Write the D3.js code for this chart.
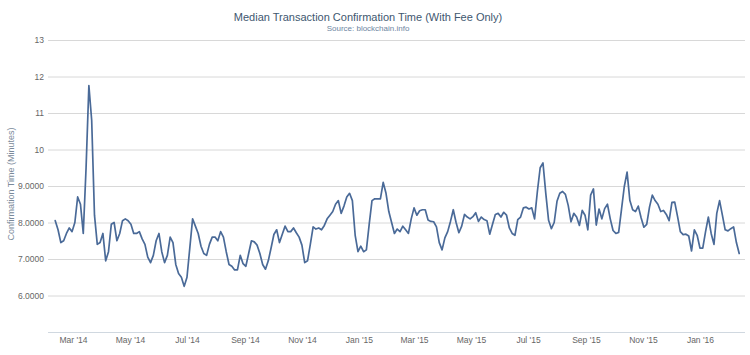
<!DOCTYPE html>
<html>
<head>
<meta charset="utf-8">
<script src="https://cdn.jsdelivr.net/npm/d3@7"></script>
<style>
  html, body { margin: 0; padding: 0; background: #ffffff; }
  svg { display: block; font-family: "Liberation Sans", "Lucida Grande", Arial, sans-serif; }
</style>
</head>
<body>
<svg id="chart" width="750" height="355"></svg>
<script>
// ---- data ----
const titleText = "Median Transaction Confirmation Time (With Fee Only)";
const subtitleText = "Source: blockchain.info";
const yAxisTitle = "Confirmation Time (Minutes)";

const seriesStart = "2014-02-10";   // first sample date
const sampleStepDays = 3;           // one sample every 3 days

const values = [
  8.05, 7.8, 7.45, 7.5, 7.7, 7.85, 7.75, 8.0, 8.7, 8.5,
  7.7, 9.5, 11.75, 10.8, 8.2, 7.4, 7.45, 7.7, 6.95, 7.2,
  7.95, 8.0, 7.5, 7.7, 8.05, 8.1, 8.05, 7.95, 7.7, 7.7,
  7.75, 7.55, 7.4, 7.05, 6.9, 7.1, 7.5, 7.7, 7.2, 6.9,
  7.1, 7.6, 7.45, 6.85, 6.6, 6.5, 6.25, 6.5, 7.3, 8.1,
  7.9, 7.7, 7.35, 7.15, 7.1, 7.4, 7.6, 7.6, 7.5, 7.75,
  7.6, 7.2, 6.85, 6.8, 6.7, 6.7, 7.1, 6.87, 6.8, 7.15,
  7.5, 7.47, 7.38, 7.15, 6.85, 6.72, 6.95, 7.3, 7.67, 7.8,
  7.45, 7.68, 7.9, 7.75, 7.75, 7.85, 7.72, 7.6, 7.38, 6.9,
  6.95, 7.4, 7.88, 7.82, 7.85, 7.8, 7.92, 8.1, 8.2, 8.3,
  8.5, 8.6, 8.25, 8.45, 8.7, 8.8, 8.6, 7.65, 7.2, 7.35,
  7.2, 7.25, 7.95, 8.6, 8.65, 8.65, 8.65, 9.1, 8.8, 8.3,
  8.0, 7.7, 7.82, 7.75, 7.9, 7.8, 7.7, 8.1, 8.4, 8.2,
  8.32, 8.35, 8.35, 8.07, 8.03, 8.02, 7.88, 7.45, 7.25, 7.58,
  7.75, 8.03, 8.35, 8.0, 7.72, 7.9, 8.22, 8.15, 8.1, 8.16,
  8.27, 8.03, 8.15, 8.08, 8.05, 7.68, 7.95, 8.22, 8.25, 8.15,
  8.28, 8.2, 7.85, 7.7, 7.65, 8.08, 8.15, 8.4, 8.42, 8.37,
  8.4, 8.1, 8.85, 9.5, 9.63, 8.8, 8.06, 7.83, 8.0, 8.58,
  8.8, 8.85, 8.77, 8.47, 8.02, 8.25, 8.15, 7.92, 8.33, 8.2,
  7.8, 8.75, 8.92, 7.93, 8.37, 8.1, 8.38, 8.5, 8.1, 7.78,
  7.7, 7.73, 8.35, 8.98, 9.38, 8.6, 8.35, 8.3, 8.45, 8.13,
  7.87, 7.95, 8.42, 8.75, 8.6, 8.5, 8.3, 8.33, 8.22, 8.05,
  8.55, 8.56, 8.17, 7.75, 7.67, 7.68, 7.63, 7.22, 7.8, 7.65,
  7.3, 7.3, 7.75, 8.15, 7.7, 7.4, 8.25, 8.6, 8.2, 7.8,
  7.77, 7.83, 7.88, 7.45, 7.15
];

const yTickValues = [6, 7, 8, 9, 10, 11, 12, 13];
const yTickLabels = ["6.0000", "7.0000", "8.0000", "9.0000", "10", "11", "12", "13"];
const xTickDates = ["2014-03-01", "2014-05-01", "2014-07-01", "2014-09-01", "2014-11-01",
  "2015-01-01", "2015-03-01", "2015-05-01", "2015-07-01", "2015-09-01", "2015-11-01", "2016-01-01"];
const xDomain = ["2014-02-02T06:00:00Z", "2016-02-18T05:00:00Z"];
const yDomain = [5, 13];

// ---- build ----
const parse = d3.utcParse("%Y-%m-%d");
const start = parse(seriesStart);
const points = values.map((v, i) => ({ date: d3.utcDay.offset(start, i * sampleStepDays), value: v }));

const plot = { left: 48, right: 745, top: 40, bottom: 332 };
const svg = d3.select("#chart");

const x = d3.scaleUtc()
  .domain(xDomain.map(s => new Date(s)))
  .range([plot.left, plot.right]);
const y = d3.scaleLinear().domain(yDomain).range([plot.bottom, plot.top]);

// title
svg.append("text").attr("x", 368).attr("y", 21).attr("text-anchor", "middle")
  .attr("font-size", 11).attr("fill", "#3E576F").text(titleText);
svg.append("text").attr("x", 368).attr("y", 31).attr("text-anchor", "middle")
  .attr("font-size", 8).attr("fill", "#6D869F").text(subtitleText);

// y grid + labels
const yAxis = d3.axisLeft(y)
  .tickValues(yTickValues)
  .tickSize(-(plot.right - plot.left))
  .tickPadding(5)
  .tickFormat((d, i) => yTickLabels[i]);
const gy = svg.append("g").attr("transform", `translate(${plot.left},0)`).call(yAxis);
gy.select(".domain").remove();
gy.selectAll(".tick line").attr("stroke", "#d8d8d8").attr("stroke-width", 1);
gy.selectAll(".tick text").attr("fill", "#666").attr("font-size", 8.5).attr("x", -4);

// y axis title
svg.append("text")
  .attr("transform", `translate(14,${(plot.top + 296) / 2 + 16}) rotate(-90)`)
  .attr("text-anchor", "middle").attr("font-size", 9).attr("fill", "#7a8a9a")
  .text(yAxisTitle);

// x axis
const xAxis = d3.axisBottom(x)
  .tickValues(xTickDates.map(parse))
  .tickSize(0)
  .tickPadding(5)
  .tickFormat(d3.utcFormat("%b '%y"));
const gx = svg.append("g").attr("transform", `translate(0,${plot.bottom})`).call(xAxis);
gx.select(".domain").attr("stroke", "#d0d8e0").attr("d", `M${plot.left},0.5H${plot.right}`);
gx.selectAll(".tick text").attr("fill", "#666").attr("font-size", 8.5);

// line
const line = d3.line().x(d => x(d.date)).y(d => y(d.value)).curve(d3.curveLinear);
svg.append("path").datum(points)
  .attr("fill", "none").attr("stroke", "#4a6a98").attr("stroke-width", 1.7)
  .attr("stroke-linejoin", "round").attr("stroke-linecap", "round")
  .attr("d", line);
</script>
</body>
</html>
